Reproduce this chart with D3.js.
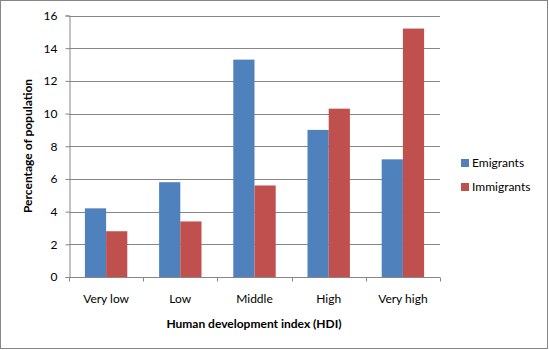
<!DOCTYPE html>
<html>
<head>
<meta charset="utf-8">
<script src="https://cdn.jsdelivr.net/npm/d3@7"></script>
<style>
  html, body { margin: 0; padding: 0; background: #fff; }
  svg { display: block; font-family: Lato, "Open Sans", sans-serif; }
</style>
</head>
<body>
<svg id="chart" width="549" height="350"></svg>
<script>
const categories = ["Very low", "Low", "Middle", "High", "Very high"];
const seriesNames = ["Emigrants", "Immigrants"];
const emigrants = [4.2, 5.8, 13.3, 9.0, 7.2];
const immigrants = [2.8, 3.4, 5.6, 10.3, 15.2];
const yTicks = [0, 2, 4, 6, 8, 10, 12, 14, 16];
const colors = ["#4F81BD", "#C0504D"];
const xTitle = "Human development index (HDI)";
const yTitle = "Percentage of population";

const svg = d3.select("#chart");
const W = 549, H = 350;
const plot = { left: 69, right: 440, top: 15.5, bottom: 277 };
const gridColor = "#868686";

// outer border
svg.append("rect")
  .attr("x", 0.5).attr("y", 0.5)
  .attr("width", W - 2).attr("height", H - 2)
  .attr("fill", "#fff").attr("stroke", "#868686").attr("stroke-width", 1);

const x = d3.scaleBand()
  .domain(categories)
  .range([plot.left, plot.right])
  .paddingInner(1.5 / 3.5)
  .paddingOuter(0.75 / 3.5);
const xs = d3.scaleBand().domain(seriesNames).range([0, x.bandwidth()]);
const y = d3.scaleLinear().domain([0, 16]).range([plot.bottom, plot.top]);

// gridlines
svg.append("g")
  .selectAll("line")
  .data(yTicks.filter(d => d > 0))
  .join("line")
  .attr("x1", plot.left).attr("x2", plot.right)
  .attr("y1", d => Math.round(y(d)) + 0.5).attr("y2", d => Math.round(y(d)) + 0.5)
  .attr("stroke", gridColor).attr("stroke-width", 1);

// bars
const data = categories.map((c, i) => ({ c, vals: [emigrants[i], immigrants[i]] }));
const groups = svg.append("g").selectAll("g")
  .data(data).join("g")
  .attr("transform", d => `translate(${x(d.c)},0)`);
groups.selectAll("rect")
  .data(d => d.vals.map((v, k) => ({ v, s: seriesNames[k], k })))
  .join("rect")
  .attr("x", d => xs(d.s))
  .attr("width", xs.bandwidth())
  .attr("y", d => y(d.v))
  .attr("height", d => y(0) - y(d.v))
  .attr("fill", d => colors[d.k]);

// y axis
const yAxis = svg.append("g")
  .attr("transform", `translate(${plot.left + 0.5},0)`)
  .call(d3.axisLeft(y).tickValues(yTicks).tickSize(4).tickPadding(8).tickFormat(d3.format("d")));
yAxis.select(".domain").attr("stroke", gridColor);
yAxis.selectAll(".tick line").attr("stroke", gridColor);
yAxis.selectAll(".tick text").attr("font-size", 12).attr("fill", "#000")
  .attr("font-family", "Lato, sans-serif");

// x axis
const xEdge = d3.scalePoint().domain(d3.range(categories.length + 1)).range([plot.left, plot.right]);
const xAxisG = svg.append("g").attr("transform", `translate(0,${Math.round(plot.bottom) + 0.5})`);
xAxisG.append("line")
  .attr("x1", plot.left).attr("x2", plot.right)
  .attr("stroke", gridColor);
xAxisG.selectAll("line.tk")
  .data(xEdge.domain()).join("line").attr("class", "tk")
  .attr("x1", d => Math.round(xEdge(d)) + 0.5).attr("x2", d => Math.round(xEdge(d)) + 0.5)
  .attr("y1", 0).attr("y2", 4)
  .attr("stroke", gridColor);
xAxisG.selectAll("text")
  .data(categories).join("text")
  .attr("x", d => x(d) + x.bandwidth() / 2)
  .attr("y", 21)
  .attr("dy", "0.35em")
  .attr("text-anchor", "middle")
  .attr("font-size", 12)
  .text(d => d);

// axis titles
svg.append("text")
  .attr("x", 254).attr("y", 324).attr("dy", "0.35em")
  .attr("text-anchor", "middle")
  .attr("font-size", 12).attr("font-weight", "bold")
  .text(xTitle);
svg.append("text")
  .attr("transform", "translate(28,146) rotate(-90)")
  .attr("dy", "0.35em")
  .attr("text-anchor", "middle")
  .attr("font-size", 12).attr("font-weight", "bold")
  .text(yTitle);

// legend
const legend = svg.append("g").selectAll("g")
  .data(seriesNames).join("g")
  .attr("transform", (d, i) => `translate(461,${163 + i * 24})`);
legend.append("rect")
  .attr("x", 0).attr("y", -4).attr("width", 8).attr("height", 8)
  .attr("fill", (d, i) => colors[i]);
legend.append("text")
  .attr("x", 11).attr("y", 0).attr("dy", "0.35em")
  .attr("font-size", 12)
  .text(d => d);
</script>
</body>
</html>
